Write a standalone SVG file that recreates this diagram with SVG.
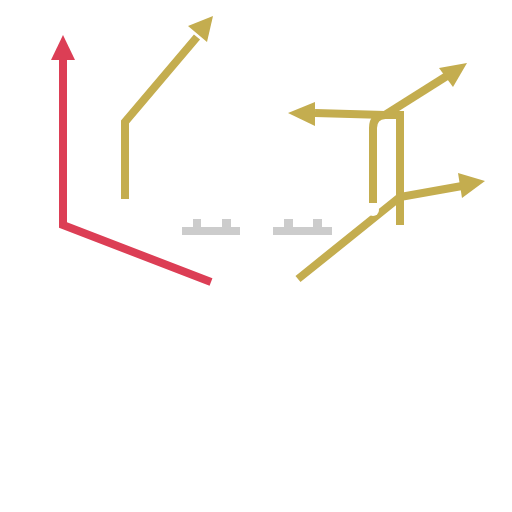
<svg xmlns="http://www.w3.org/2000/svg" width="512" height="512" viewBox="0 0 512 512">
<style>
.red{fill:none;stroke:#dc3e55;stroke-width:8}
.gold{fill:none;stroke:#c4ad4f;stroke-width:8}
.gh{fill:#c4ad4f}
.rh{fill:#dc3e55}
.gray{fill:#cccccc}
</style>
<rect width="512" height="512" fill="#ffffff"/>
<g id="blocks">
<path class="gray" d="M182 227h11v-8h8v8h21v-8h9v8h9v8h-58z"/>
<path class="gray" d="M273 227h11v-8h9v8h20v-8h9v8h10v8h-59z"/>
</g>
<g id="connectors">
<polyline class="red" points="211,282 63,225 63,58"/>
<polygon class="rh" points="63,35 51,60 75,60"/>
<polyline class="gold" points="125,199 125,122 197,37"/>
<polygon class="gh" points="213,16 188,26 207,42"/>
<path class="gold" d="M315,113 L385,115 L400,115 L400,225"/>
<polygon class="gh" points="288,113 315,102 315,126"/>
<line class="gold" x1="385" y1="115" x2="450" y2="74"/>
<polygon class="gh" points="467,63 439,68 453,87"/>
<path class="gold" d="M298,279 L400,197 L462,186"/>
<polygon class="gh" points="485,181 458,173 462,198"/>
<path class="gold" d="M373,203 L373,128 Q373,116 385,115"/>
<circle cx="373" cy="210" r="6" fill="#ffffff"/>
</g>
</svg>
